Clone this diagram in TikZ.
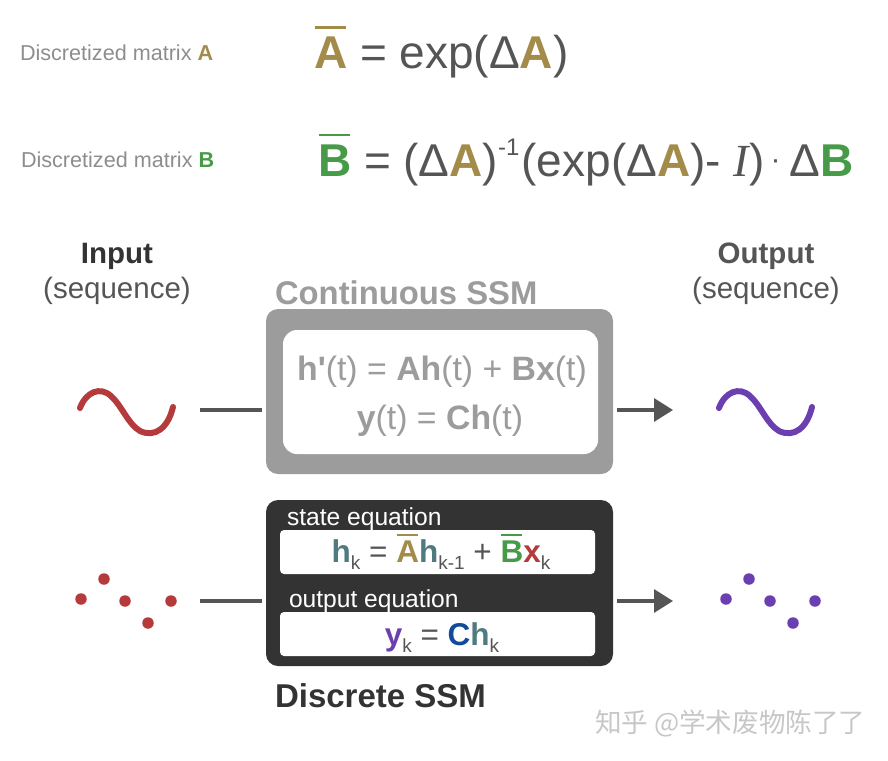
\documentclass[tikz,border=0pt]{standalone}
\usepackage{fontspec}
\setmainfont{Liberation Sans}
\newfontfamily\cjk{Noto Sans CJK SC}
\newfontfamily\serifit{Liberation Serif}
\usetikzlibrary{arrows.meta}
\definecolor{cA}{HTML}{A38C4A}
\definecolor{cB}{HTML}{479A48}
\definecolor{cH}{HTML}{4F7A80}
\definecolor{cX}{HTML}{B53A3C}
\definecolor{cY}{HTML}{6C3FB0}
\definecolor{cC}{HTML}{124A9C}
\definecolor{cInk}{HTML}{555555}
\definecolor{cDark}{HTML}{333333}
\definecolor{cGray}{HTML}{9C9C9C}
\newcommand{\fs}[1]{\fontsize{#1}{#1}\selectfont}
\newcommand{\cb}[2]{\textcolor{#1}{\textbf{#2}}}
\newlength{\barw}
\newcommand{\barred}[4]{\settowidth{\barw}{\textbf{#2}}\rlap{\hspace{0.04\barw}\raisebox{#3}{\textcolor{#1}{\rule{0.92\barw}{#4}}}}\cb{#1}{#2}}
\newcommand{\subk}[1]{\raisebox{-0.24em}{\fs{19}\textcolor{cInk}{#1}}}
\tikzset{
  lbl/.style={anchor=base west,inner sep=0pt,outer sep=0pt},
  ctr/.style={anchor=base,inner sep=0pt,outer sep=0pt},
  panel/.style={anchor=north west,inner sep=0pt,outer sep=0pt,rounded corners=#1},
  wire/.style={draw=cInk,line width=3.2pt},
  arrowwire/.style={wire,-{Triangle[length=19pt,width=23pt]}},
  wave/.style={line width=6pt,line cap=round},
  dotm/.style={circle,inner sep=0pt,minimum size=11.5pt},
}
\begin{document}
\begin{tikzpicture}[x=1pt,y=-1pt]
\useasboundingbox (0,0) rectangle (888,760);
% top labels
\node[lbl,text=cGray!90!black] (la) at (20,60) {\fs{21.6}Discretized matrix \cb{cA}{A}};
\node[lbl,text=cGray!90!black] (lb) at (21,167) {\fs{21.6}Discretized matrix \cb{cB}{B}};
\node[lbl,text=cInk] (fa) at (314,69) {\fs{46}\barred{cA}{A}{40pt}{2.5pt} = exp(Δ\cb{cA}{A})};
\node[lbl,text=cInk] (fb) at (318,176) {\fs{46}\barred{cB}{B}{40pt}{2.5pt} = (Δ\cb{cA}{A})\raisebox{21pt}{\fs{24}-1}\hspace{2pt}(exp(Δ\cb{cA}{A})-\hspace{13pt}{\serifit\itshape I})\hspace{6pt}\raisebox{7pt}{\fs{30}·}\hspace{9pt}Δ\cb{cB}{B}};
% headings
\node[ctr,text=cDark] (tin) at (117,263) {\fs{29.5}\textbf{Input}};
\node[ctr,text=cInk] (tins) at (117,298) {\fs{29.5}(sequence)};
\node[ctr,text=cInk] (tout) at (766,263) {\fs{29.5}\textbf{Output}};
\node[ctr,text=cInk] (touts) at (766,298) {\fs{29.5}(sequence)};
% continuous
\node[lbl,text=cGray] (tc) at (275,304) {\fs{32.8}\textbf{Continuous SSM}};
\node[panel=12pt,fill=cGray,minimum width=347pt,minimum height=165pt] (cbox) at (266,309) {};
\node[panel=14pt,fill=white,minimum width=315pt,minimum height=124pt] (cin) at (283,330) {};
\node[ctr,text=cGray] (c1) at (442,380) {\fs{33.8}\textbf{h\textquotesingle}(t) = \textbf{Ah}(t) + \textbf{Bx}(t)};
\node[ctr,text=cGray] (c2) at (440,429) {\fs{33.8}\textbf{y}(t) = \textbf{Ch}(t)};
% discrete
\node[panel=12pt,fill=cDark,minimum width=347pt,minimum height=166pt] (dbox) at (266,500) {};
\node[lbl,text=white] (s1) at (287,525) {\fs{24.6}state equation};
\node[panel=4pt,fill=white,minimum width=315pt,minimum height=44pt] (d1) at (280,530) {};
\node[lbl,text=white] (s2) at (289,607) {\fs{24.6}output equation};
\node[panel=4pt,fill=white,minimum width=315pt,minimum height=44pt] (d2) at (280,612) {};
\node[ctr,text=cInk] (e1) at (441,562) {\fs{31.5}\cb{cH}{h}\subk{k} = \barred{cA}{A}{26pt}{2pt}\cb{cH}{h}\subk{k-1} + \barred{cB}{B}{26pt}{2pt}\cb{cX}{x}\subk{k}};
\node[ctr,text=cInk] (e2) at (442,645) {\fs{31.5}\cb{cY}{y}\subk{k} = \cb{cC}{C}\cb{cH}{h}\subk{k}};
\node[lbl,text=cDark] (td) at (275,707) {\fs{33}\textbf{Discrete SSM}};
% waves
\draw[wave,draw=cX] (80,408) .. controls (86,392) and (100,386) .. (111,396) .. controls (122,406) and (128,424) .. (140,431) .. controls (155,438) and (168,428) .. (173,407);
\draw[wave,draw=cY] (719,408) .. controls (725,392) and (739,386) .. (750,396) .. controls (761,406) and (767,424) .. (779,431) .. controls (794,438) and (807,428) .. (812,407);
% dots
\foreach \n/\x/\y in {r1/81/599,r2/104/579,r3/125/601,r4/148/623,r5/171/601}
  \node[dotm,fill=cX] (\n) at (\x,\y) {};
\foreach \n/\x/\y in {p1/726/599,p2/749/579,p3/770/601,p4/793/623,p5/815/601}
  \node[dotm,fill=cY] (\n) at (\x,\y) {};
% connectors
\coordinate (ia) at (200,410);
\coordinate (oa) at (673,410);
\coordinate (ib) at (200,601);
\coordinate (ob) at (673,601);
\coordinate (cw) at (cbox.west |- ia);
\coordinate (ce) at (cbox.east |- ia);
\coordinate (dw) at (dbox.west |- ib);
\coordinate (de) at (dbox.east |- ib);
\draw[wire,shorten >=4pt] (ia) -- (cw);
\draw[arrowwire,shorten <=4pt] (ce) -- (oa);
\draw[wire,shorten >=4pt] (ib) -- (dw);
\draw[arrowwire,shorten <=4pt] (de) -- (ob);
% watermark
\node[lbl,text=black!22] (wm) at (595,732) {\fs{26.6}\cjk 知乎 @学术废物陈了了};
\end{tikzpicture}
\end{document}
